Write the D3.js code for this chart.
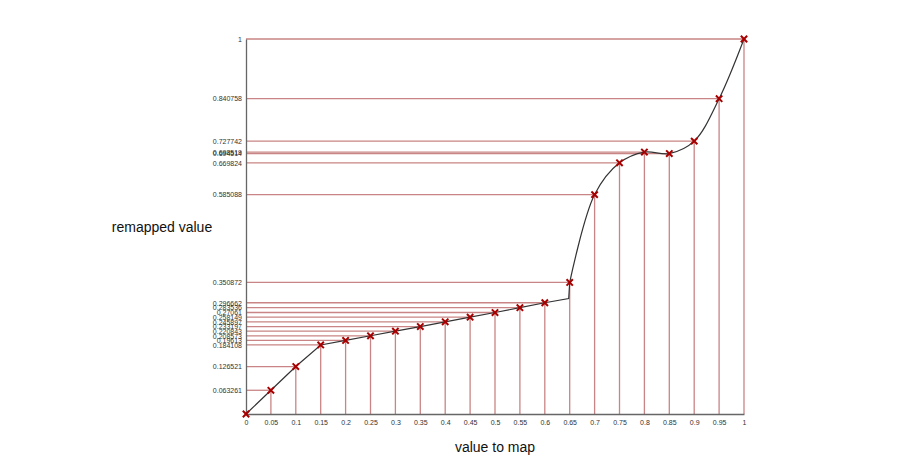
<!DOCTYPE html>
<html>
<head>
<meta charset="utf-8">
<script src="https://cdn.jsdelivr.net/npm/d3@7"></script>
<style>
  body { margin: 0; background: #fff; }
  svg { display: block; font-family: "Liberation Sans", Arial, sans-serif; }
</style>
</head>
<body>
<svg id="chart" width="903" height="471"></svg>
<script>
// sample positions (x) and their remapped values (y)
const inputs = [0, 0.05, 0.1, 0.15, 0.2, 0.25, 0.3, 0.35, 0.4, 0.45, 0.5,
                0.55, 0.6, 0.65, 0.7, 0.75, 0.8, 0.85, 0.9, 0.95, 1];
const remapped = [0, 0.063261, 0.126521, 0.184108, 0.19613, 0.208573, 0.220843,
                  0.233197, 0.245897, 0.258149, 0.27061, 0.283536, 0.296662,
                  0.350872, 0.585088, 0.669824, 0.698519, 0.694514, 0.727742,
                  0.840758, 1];
const xTickLabels = ['0', '0.05', '0.1', '0.15', '0.2', '0.25', '0.3', '0.35', '0.4',
                     '0.45', '0.5', '0.55', '0.6', '0.65', '0.7', '0.75', '0.8',
                     '0.85', '0.9', '0.95', '1'];
const yTickLabels = ['0', '0.063261', '0.126521', '0.184108', '0.19613', '0.208573',
                     '0.220843', '0.233197', '0.245897', '0.258149', '0.27061',
                     '0.283536', '0.296662', '0.350872', '0.585088', '0.669824',
                     '0.698519', '0.694514', '0.727742', '0.840758', '1'];
// where the linear part breaks before the jump at 0.65
const kink = { x: 0.648, y: 0.308 };

const margin = { top: 39, right: 159, bottom: 57, left: 246 };
const width = 903, height = 471;
const innerW = width - margin.left - margin.right;
const innerH = height - margin.top - margin.bottom;

const svg = d3.select('#chart');
const g = svg.append('g').attr('transform', `translate(${margin.left},${margin.top})`);

const x = d3.scaleLinear().domain([0, 1]).range([0, innerW]);
const y = d3.scaleLinear().domain([0, 1]).range([innerH, 0]);

const points = inputs.map((v, i) => ({ x: v, y: remapped[i], label: yTickLabels[i] }));

// guide lines: horizontal from y axis to point, vertical from point to x axis
const guideColor = '#c98585';
g.selectAll('.hguide').data(points.slice(1)).join('line')
  .attr('x1', 0).attr('x2', d => x(d.x))
  .attr('y1', d => y(d.y)).attr('y2', d => y(d.y))
  .style('stroke', guideColor).style('stroke-width', 1.3);
g.selectAll('.vguide').data(points.slice(1)).join('line')
  .attr('x1', d => x(d.x)).attr('x2', d => x(d.x))
  .attr('y1', d => y(d.y)).attr('y2', innerH)
  .style('stroke', guideColor).style('stroke-width', 1.3);

// axes
const xAxis = d3.axisBottom(x).tickValues(inputs).tickFormat((d, i) => xTickLabels[i])
  .tickSize(0).tickPadding(6);
const yAxis = d3.axisLeft(y).tickValues(remapped.slice(1))
  .tickFormat((d, i) => yTickLabels[i + 1]).tickSize(0).tickPadding(4);

const gx = g.append('g').attr('transform', `translate(0,${innerH})`).call(xAxis);
const gy = g.append('g').call(yAxis);
[gx, gy].forEach(a => {
  a.select('.domain').style('stroke', '#666').style('stroke-width', 1.3);
  a.selectAll('text').style('font-size', '7px').style('fill', '#333')
    .style('font-family', '"Liberation Sans", Arial, sans-serif');
});

// curve: linear up to the kink, then smooth from 0.65 on
const linearPart = points.slice(0, 13).concat([{ x: kink.x, y: kink.y }, points[13]]);
const smoothPart = points.slice(13);

const lineLinear = d3.line().x(d => x(d.x)).y(d => y(d.y));
const lineSmooth = d3.line().x(d => x(d.x)).y(d => y(d.y)).curve(d3.curveCatmullRom.alpha(0.5));

g.append('path').datum(linearPart).attr('d', lineLinear)
  .style('fill', 'none').style('stroke', '#333').style('stroke-width', 1.2);
g.append('path').datum(smoothPart).attr('d', lineSmooth)
  .style('fill', 'none').style('stroke', '#333').style('stroke-width', 1.2);

// markers
const cross = d3.symbol().type(d3.symbolX).size(28);
g.selectAll('.mark').data(points).join('path')
  .attr('transform', d => `translate(${x(d.x)},${y(d.y)})`)
  .attr('d', cross)
  .style('stroke', '#a80000').style('stroke-width', 2).style('fill', 'none');

// axis titles
svg.append('text').attr('x', margin.left + innerW / 2).attr('y', 452)
  .attr('text-anchor', 'middle').style('font-size', '14px').style('fill', '#111')
  .text('value to map');
svg.append('text').attr('x', 162).attr('y', 232)
  .attr('text-anchor', 'middle').style('font-size', '14px').style('fill', '#111')
  .text('remapped value');
</script>
</body>
</html>
